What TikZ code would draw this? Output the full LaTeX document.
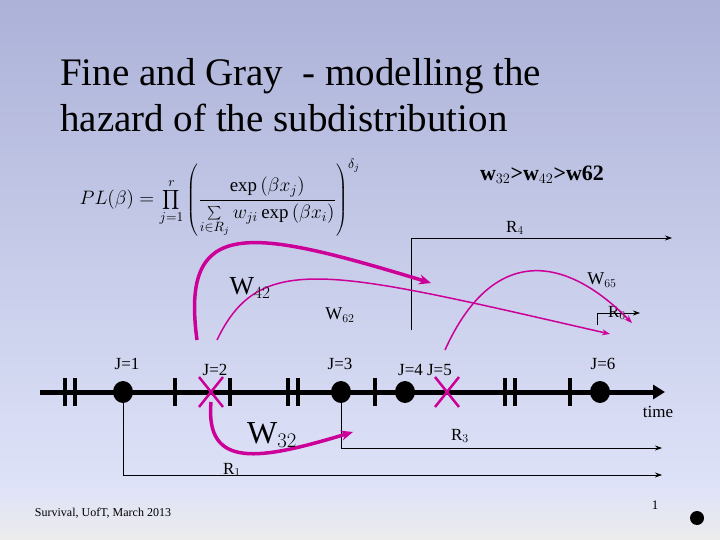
\documentclass[tikz,border=0pt]{standalone}
\usepackage{fontspec}
\setmainfont{Liberation Serif}
\usetikzlibrary{arrows.meta,calc}
\definecolor{mag}{RGB}{204,0,153}
\definecolor{bgtop}{RGB}{172,178,216}
\definecolor{bgbot}{RGB}{222,226,248}
\begin{document}
\begin{tikzpicture}[x=1pt,y=-1pt,
  axis/.style={line width=5pt},
  tk/.style={line width=4pt},
  thin/.style={line width=0.7pt,-{Stealth[length=7pt,width=5pt]}},
  marr/.style={mag,line width=3.5pt,-{Stealth[length=12pt,width=10pt]}},
  tarr/.style={mag,line width=1.5pt,-{Stealth[length=8pt,width=6pt]}},
  crs/.style={mag,line width=2.5pt},
  lab/.style={font=\fontsize{17}{17}\selectfont,inner sep=0pt}]
\shade[top color=bgtop,bottom color=bgbot] (0,0) rectangle (720,485);
\shade[top color=bgbot,bottom color=white!85!gray] (0,485) rectangle (720,540);
\useasboundingbox (0,0) rectangle (720,540);
\node[anchor=west,font=\fontsize{39}{46}\selectfont,align=left,inner sep=0pt] (title) at (60,95) {Fine and Gray~ - modelling the\\hazard of the subdistribution};
\node[font=\bfseries\fontsize{22}{22}\selectfont] (ineq) at (542,175) {w$_{32}$>w$_{42}$>w62};
\node[font=\fontsize{14}{14}\selectfont,scale=1.35] (pl) at (220,198) {$\displaystyle PL(\beta)=\prod_{j=1}^{r}\left(\frac{\exp\left(\beta x_j\right)}{\sum\limits_{i\in R_j} w_{ji}\exp\left(\beta x_i\right)}\right)^{\delta_j}$};
% axis
\coordinate (a0) at (40,392); \coordinate (a1) at (665,392);
\draw[axis,-{Triangle[length=12pt,width=14pt]}] (a0) -- (a1);
\foreach \x in {65,75,175,230,288,298,375,505,515,570} \draw[tk] (\x,378) -- (\x,406);
\foreach \n/\x in {d1/123,d3/341,d4/405,d6/600} \fill (\x,392) coordinate (\n) ellipse (10 and 11);
\foreach \n/\x in {c2/211,c5/447} {\coordinate (\n) at (\x,392);
  \draw[crs] ($(\n)+(-12,-15)$) -- ($(\n)+(12,15)$) ($(\n)+(12,-15)$) -- ($(\n)+(-12,15)$);}
\node[lab] (j1) at (127,364) {J=1};
\node[lab] (j2) at (215,370) {J=2};
\node[lab] (j3) at (340,364) {J=3};
\node[lab] (j45) at (425,370) {J=4 J=5};
\node[lab] (j6) at (603,364) {J=6};
\node[lab] (time) at (658,412) {time};
% risk sets
\coordinate (r1e) at (662,475); \coordinate (r3e) at (662,448);
\draw[thin] (d1) -- (123,475) -- (r1e);
\draw[thin] (d3) -- (341,448) -- (r3e);
\coordinate (r4a) at (411,330); \coordinate (r4e) at (672,238);
\draw[thin] (r4a) -- (411,238) -- (r4e);
\coordinate (r6a) at (597,325); \coordinate (r6e) at (640,313);
\draw[thin] (r6a) -- (597,313) -- (r6e);
\node[lab] (R1) at (232,470) {R$_1$};
\node[lab] (R3) at (460,436) {R$_3$};
\node[lab] (R4) at (515,228) {R$_4$};
\node[lab] (R6) at (617,313) {R$_6$};
% weight arrows
\coordinate (e1) at (431,283);
\draw[marr] (197,340) .. controls (180,215) and (250,228) .. (e1);
\coordinate (e2) at (610,334);
\draw[tarr] (217,340) .. controls (260,250) and (330,270) .. (e2);
\coordinate (e3) at (632,323);
\draw[tarr] (445,350) .. controls (490,250) and (560,250) .. (e3);
\coordinate (e4) at (353,432);
\draw[marr] (211,402) .. controls (205,470) and (260,460) .. (e4);
\node[font=\fontsize{26}{26}\selectfont] (w42) at (250,288) {W$_{42}$};
\node[font=\fontsize{18}{18}\selectfont] (w62) at (340,315) {W$_{62}$};
\node[font=\fontsize{18}{18}\selectfont] (w65) at (602,280) {W$_{65}$};
\node[font=\fontsize{32}{32}\selectfont] (w32) at (272,435) {W$_{32}$};
\node[font=\fontsize{12}{12}\selectfont] (foot) at (103,513) {Survival, UofT, March 2013};
\node[font=\fontsize{13}{13}\selectfont] (pg) at (655,505) {1};
\fill (697,518) coordinate (bd) circle (7);
\end{tikzpicture}
\end{document}
